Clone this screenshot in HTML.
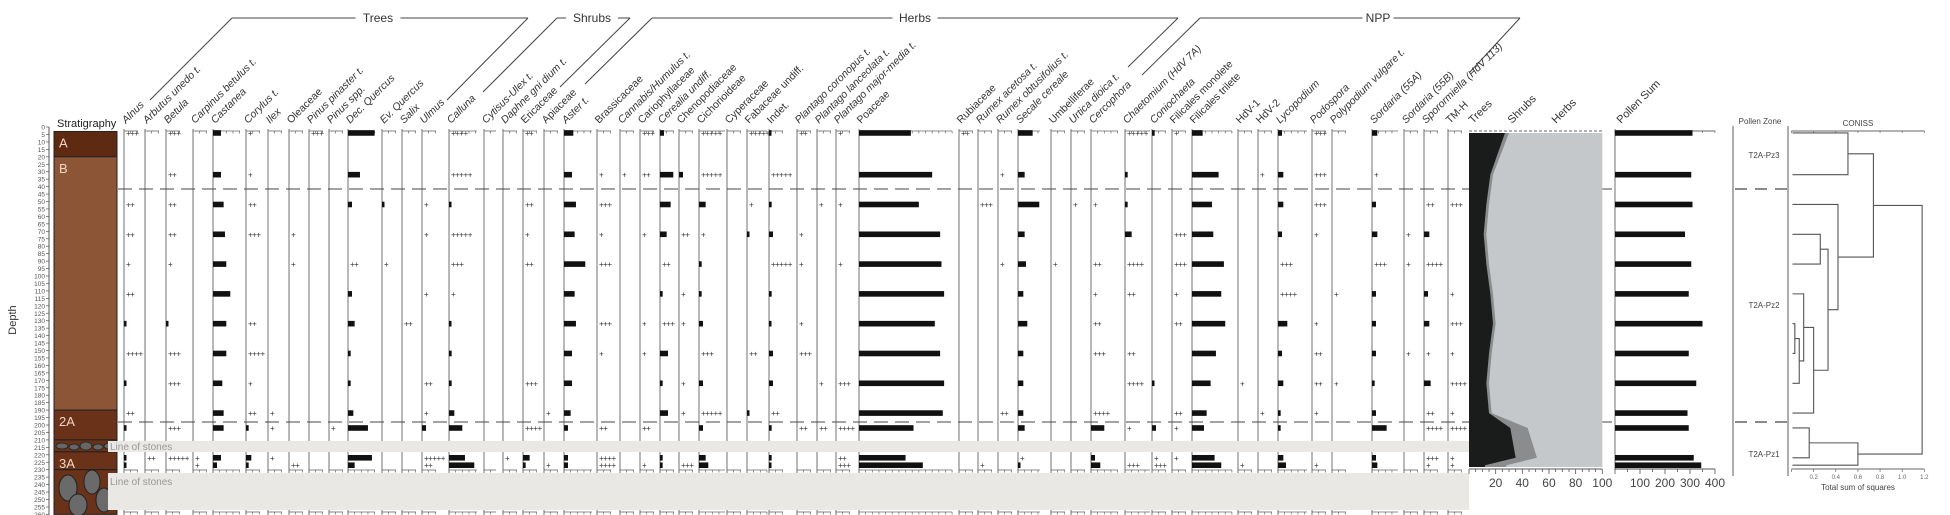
<!DOCTYPE html>
<html><head><meta charset="utf-8"><style>
html,body{margin:0;padding:0;background:#fff;}
svg{display:block;font-family:"Liberation Sans",sans-serif;}
</style></head><body>
<svg id="chart" width="1950" height="515" viewBox="0 0 1950 515" xmlns="http://www.w3.org/2000/svg"></svg>
<script>
// ---------- data ----------
const sampleDepths = [4,32,52,72,92,112,132,152,172,192,202,222,227];
const taxaNames = ["Alnus","Arbutus unedo t.","Betula","Carpinus betulus t.","Castanea","Corylus t.","Ilex","Oleaceae","Pinus pinaster t.","Pinus spp.","Dec. Quercus","Ev. Quercus","Salix","Ulmus","Calluna","Cytisus-Ulex t.","Daphne  gni dium t.","Ericaceae","Apiaceae","Aster t.","Brassicaceae","Cannabis/Humulus t.","Cariophyllaceae","Cerealia undiff.","Chenopodiaceae","Cichorioideae","Cyperaceae","Fabaceae undiff.","Indet.","Plantago coronopus t.","Plantago  lanceolata t.","Plantago major-media t.","Poaceae","Rubiaceae","Rumex acetosa t.","Rumex obtusifolius t.","Secale cereale","Umbelliferae","Urtica dioica t.","Cercophora","Chaetomium (HdV 7A)","Coniochaeta","Filicales monolete","Filicales trilete","HdV-1","HdV-2","Lycopodium","Podospora","Polypodium vulgare t.","Sordaria (55A)","Sordaria (55B)","Sporormiella (HdV 113)","TM-H"];
const N=null;
// number = percentage bar, string = rare-type marks
const taxonValues = [
 ["+++",N,"++","++","+","++",1,"++++",1,"++",1,1,1],
 [N,N,N,N,N,N,N,N,N,N,N,"++",N],
 ["+++","++","++","++","+",N,1,"+++","+++",N,"+++","+++++",N],
 [N,N,N,N,N,N,N,N,N,N,N,"+","+"],
 [6,6,8,9,10,13,10,10,7,8,8,6,3],
 ["+","+","++","+++",N,N,"++","++++","+","++",2,4,2],
 [N,N,N,N,N,N,N,N,N,"+","+","+",N],
 [N,N,N,"+","+",N,N,N,N,N,N,N,"++"],
 ["+++",N,N,N,N,N,N,N,N,N,N,N,N],
 [N,N,N,N,N,N,N,N,N,N,"+",N,N],
 [20,9,3,N,"++",3,5,2,2,4,15,18,5],
 [N,N,1,N,"+",N,N,N,N,N,N,N,N],
 [N,N,N,N,N,N,"++",N,N,N,N,N,N],
 [N,N,"+","+",N,"+",N,N,"++","+",3,"+++++","++"],
 ["++++","+++++",1,"+++++","+++","+",1,2,2,4,10,12,19],
 [N,N,N,N,N,N,N,N,N,N,N,N,N],
 [N,N,N,N,N,N,N,N,N,N,N,"+",N],
 ["++",N,"++","+","++",N,N,N,"+++",N,"++++",5,2],
 [N,N,N,N,N,N,N,N,N,"+",N,N,"+"],
 [7,6,9,8,16,8,9,6,6,5,3,3,3],
 [N,"+","+++","+","+++",N,"+++","+",N,N,"++","++++","++++"],
 [N,"+",N,N,N,N,N,N,N,N,N,N,N],
 ["+++","++",N,"+",N,N,"+","+",N,N,"++",N,"+"],
 [3,10,8,5,"++",2,"+++",6,2,6,N,2,2],
 [N,3,N,"++",N,"+","+",N,"+","+",N,N,"+++"],
 ["+++++","+++++",5,"+",2,2,3,"+++",3,"+++++",3,5,7],
 [N,N,N,N,N,N,N,N,N,N,N,N,N],
 ["+++++",N,"+",1,N,N,N,"++",N,1,N,N,N],
 [1,"+++++",2,3,"+++++",2,1,3,3,"++",2,2,1],
 ["++",N,N,"+","+",N,"+","+++",N,N,"++",N,N],
 [N,N,"+",N,N,N,N,N,"+",N,"++",N,N],
 ["+",N,"+",N,"+",N,N,N,"+++",N,"++++","++","+++"],
 [39,55,45,61,62,64,57,61,64,63,41,35,48],
 ["++",N,N,N,N,N,N,N,N,N,N,N,N],
 [N,N,"+++",N,N,N,N,N,N,N,N,N,"+"],
 [N,"+",N,N,"+",N,N,N,N,"++",N,N,N],
 [11,5,16,5,6,4,7,4,4,4,5,"+",1],
 [N,N,N,N,"+",N,N,N,N,N,N,N,N],
 [N,N,"+",N,N,N,N,N,N,N,N,N,N],
 [N,N,"+",N,"++","+","++","+++",N,"++++",10,3,7],
 ["+++++",2,2,5,"++++","++",N,"++","++++",N,"+",N,"+++"],
 [2,N,N,N,N,N,N,N,1,N,3,"+","+++"],
 ["+",N,N,"+++","+++","+","++",N,N,"++","+","+",N],
 [8,20,15,16,24,22,25,18,14,11,9,17,22],
 [N,N,N,N,N,N,N,N,"+",N,N,N,"+"],
 [N,"+",N,N,N,N,N,N,N,"+",N,N,N],
 [3,4,4,3,"+++","++++",7,3,4,2,2,4,6],
 ["+++","+++","+++","+",N,N,"+","++","++","+",N,N,"+"],
 [N,N,N,N,N,"+",N,N,"+",N,N,N,N],
 [4,"+",3,4,"+++",3,3,3,2,3,11,3,4],
 [N,N,N,"+","+",N,N,"+",N,N,N,N,N],
 [N,N,"++",4,"++++",3,4,"+",5,"++","++++","+++","+"],
 [N,N,"+++",N,N,"+","+++","+","++++","+","++++","+","+"]
];
const treesPct = [27,16,13,11,13,16,18,15,13,15,31,35,12];
const shrubsPct = [3,2,2,2,2,2,2,2,2,2,13,16,16];
const pollenSum = [310,305,310,280,305,295,350,295,325,290,295,315,345];
const summaryTicks = [20,40,60,80,100];
const sumTicks = [100,200,300,400];
const conissTicks = [0.2,0.4,0.6,0.8,1.0,1.2];
// dendrogram merges: child = sample index (number) or earlier merge "nK"
const mergeLeft  = [0,3,6,"n2",5,"n4","n1",2,"n0",10,"n9","n8"];
const mergeRight = [1,4,7,8,"n3",9,"n5","n6","n7",11,12,"n10"];
const mergeHeight= [0.51,0.26,0.03,0.07,0.11,0.20,0.33,0.42,0.74,0.16,0.60,1.18];
</script>
<script>
const NS="http://www.w3.org/2000/svg";
const svg=document.getElementById('chart');
function mk(tag,attrs,parent){const e=document.createElementNS(NS,tag);for(const k in attrs)e.setAttribute(k,attrs[k]);(parent||svg).appendChild(e);return e;}
const y0=127, pxPerDepth=1.49;
const yOf=d=>y0+d*pxPerDepth;
const pxPct=1.33;
const colX=[124,145,166,193,213,246,268,289,309,329,348,382,402,422,449,484,503,523,544,564,597,620,640,660,679,699,727,747,769,797,817,836,859,959,978,998,1018,1051,1071,1091,1125,1152,1172,1192,1238,1258,1278,1312,1332,1372,1404,1424,1448];
const colW=[14,14,14,14,27,14,14,14,14,14,27,14,14,14,28,12,14,14,14,28,14,14,14,14,14,26,14,20,14,14,14,14,93,14,14,14,22,14,14,27,25,14,14,40,14,14,29,14,14,26,14,14,14];
const italicSet=new Set(["Alnus","Arbutus unedo t.","Betula","Carpinus betulus t.","Castanea","Corylus t.","Ilex","Pinus pinaster t.","Pinus spp.","Dec. Quercus","Ev. Quercus","Salix","Ulmus","Calluna","Cytisus-Ulex t.","Daphne  gni dium t.","Aster t.","Cannabis/Humulus t.","Cerealia undiff.","Plantago coronopus t.","Plantago  lanceolata t.","Plantago major-media t.","Rumex acetosa t.","Rumex obtusifolius t.","Secale cereale","Urtica dioica t.","Cercophora","Chaetomium (HdV 7A)","Coniochaeta","Lycopodium","Podospora","Polypodium vulgare t.","Sordaria (55A)","Sordaria (55B)","Sporormiella (HdV 113)"]);

// ---- group headers ----
const groups=[["Trees",232,528,150,100,447,100,378],["Shrubs",557,630,483,92,560,87,592],["Herbs",652,1178,585,84,1128,67,915],["NPP",1200,1520,1142,75,1470,72,1378]];
groups.forEach(g=>{
  const gg=mk('g',{});
  
  
  const tw=g[0].length*7+10;
  mk('line',{x1:g[1],y1:18,x2:g[7]-tw/2,y2:18,stroke:'#444','stroke-width':1},gg);
  mk('line',{x1:g[7]+tw/2,y1:18,x2:g[2],y2:18,stroke:'#444','stroke-width':1},gg);
  mk('line',{x1:g[1],y1:18,x2:g[3],y2:g[4],stroke:'#444','stroke-width':1},gg);
  mk('line',{x1:g[2],y1:18,x2:g[5],y2:g[6],stroke:'#444','stroke-width':1},gg);
  const t=mk('text',{x:g[7],y:22,'font-size':12,'text-anchor':'middle',fill:'#333'},gg);t.textContent=g[0];
});

// ---- stratigraphy ----
const st=mk('text',{x:57,y:127,'font-size':11,fill:'#222'});st.textContent='Stratigraphy';

const strat=[["A",3,20,'#5e2a12'],["B",20,190,'#8c5636'],["2A",190,210,'#6a3218'],["stones",210,218,'#6a3218'],["3A",218,230,'#6a3218'],["stones",230,260,'#6a3218']];
strat.forEach(s=>{
  const r=mk('rect',{x:54,y:yOf(s[1]),width:63,height:yOf(s[2])-yOf(s[1]),fill:s[3],stroke:'#222','stroke-width':1});
  
  if(s[0]!=="stones"){const t=mk('text',{x:59,y:yOf(s[1])+16,'font-size':13,fill:'#f2d5c2'});t.textContent=s[0];}
});
[[62,446,6,3],[74,447,5,3],[86,446,6,4],[98,447,5,3],[109,446,5,3]].forEach(e=>mk('ellipse',{cx:e[0],cy:e[1],rx:e[2],ry:e[3],fill:'#666',stroke:'#222','stroke-width':0.8}));
[[68,488,9,13],[92,482,8,12],[78,505,9,11],[104,500,8,12]].forEach(e=>mk('ellipse',{cx:e[0],cy:e[1],rx:e[2],ry:e[3],fill:'#6a6a6a',stroke:'#222','stroke-width':1}));

// depth axis
const da=mk('g',{});
mk('line',{x1:49,y1:yOf(0),x2:49,y2:515,stroke:'#555','stroke-width':1},da);
for(let d=0;d<=260;d+=5){mk('line',{x1:46,y1:yOf(d),x2:49,y2:yOf(d),stroke:'#555','stroke-width':0.7},da);
 const t=mk('text',{x:45,y:yOf(d)+2.5,'font-size':6.5,'text-anchor':'end',fill:'#555'},da);t.textContent=d;}
const dt=mk('text',{x:16,y:320,'font-size':11,'text-anchor':'middle',fill:'#333',transform:'rotate(-90 16 320)'});dt.textContent='Depth';


// ---- taxa columns ----
taxaNames.forEach((nm,i)=>{
  const x=colX[i],w=colW[i];
  const g=mk('g',{});
  
  
  mk('line',{x1:x,y1:129,x2:x,y2:515,stroke:'#888','stroke-width':1.2},g);
  [131,470,512].forEach(yy=>{
    mk('line',{x1:x,y1:yy,x2:x+w,y2:yy,stroke:'#666','stroke-width':0.8},g);
    for(let t=x+6.65;t<=x+w+0.5;t+=6.65)mk('line',{x1:t,y1:yy,x2:t,y2:yy+2.5,stroke:'#666','stroke-width':0.7},g);
  });
  const lab=mk('text',{x:x+2,y:124,'font-size':10.5,fill:'#333',transform:`rotate(-45 ${x+2} 124)`},g);
  lab.textContent=nm; if(italicSet.has(nm))lab.setAttribute('font-style','italic');
  taxonValues[i].forEach((v,j)=>{
    if(v===null)return;
    const yy=yOf(sampleDepths[j]);
    if(typeof v==='number'){const b=mk('rect',{x:x,y:yy-2.8,width:Math.max(2.5,v*pxPct),height:5.6,fill:'#111'},g);
      }
    else{const t=mk('text',{x:x+2,y:yy+3,'font-size':8,fill:'#333','letter-spacing':'-0.5'},g);t.textContent=v;}
  });
});

// stones bands (over columns)
const b1=mk('rect',{x:108,y:441,width:1361,height:11,fill:'#eae8e4'});

const b1t=mk('text',{x:110,y:450,'font-size':10,fill:'#999'});b1t.textContent='Line of stones';
const b2=mk('rect',{x:108,y:473,width:1361,height:37,fill:'#eae8e4'});

const b2t=mk('text',{x:110,y:485,'font-size':10,fill:'#999'});b2t.textContent='Line of stones';

// zone dashed lines
[189,422].forEach((yy,k)=>{const l=mk('line',{x1:118,y1:yy,x2:1470,y2:yy,stroke:'#444','stroke-width':1,'stroke-dasharray':'14,7'});
 
 mk('line',{x1:1735,y1:yy,x2:1792,y2:yy,stroke:'#444','stroke-width':1.2,'stroke-dasharray':'12,8'});
 mk('line',{x1:1602,y1:yy,x2:1612,y2:yy,stroke:'#444','stroke-width':1});});

// ---- summary area chart ----
const sx0=1469, sxW=133.3;
const sX=p=>sx0+p*sxW/100;
const sg=mk('g',{});
const yTop=133, yBot=467;
const ys=sampleDepths.map(yOf);
mk('rect',{x:sx0,y:yTop,width:sxW,height:yBot-yTop,fill:'#c5c8ca'},sg);
function area(vals,fill,name){
  let p=`M${sx0},${yTop} L${sX(vals[0])},${yTop} `;
  vals.forEach((v,j)=>p+=`L${sX(v)},${ys[j]} `);
  p+=`L${sX(vals[vals.length-1])},${yBot} L${sx0},${yBot} Z`;
  const a=mk('path',{d:p,fill:fill},sg);
}
area(treesPct.map((t,j)=>t+shrubsPct[j]),'#8a8c8e','shrubs-area');
area(treesPct,'#1a1c1b','trees-area');
mk('line',{x1:sx0,y1:131,x2:sx0+sxW,y2:131,stroke:'#666','stroke-width':1,'stroke-dasharray':'3,2'},sg);
mk('line',{x1:sx0,y1:469,x2:sx0+sxW,y2:469,stroke:'#555','stroke-width':1},sg);
for(let p=0;p<=100;p+=5)mk('line',{x1:sX(p),y1:469,x2:sX(p),y2:p%20==0?474:472,stroke:'#555','stroke-width':0.8},sg);
summaryTicks.forEach(p=>{const t=mk('text',{x:sX(p),y:487,'font-size':12,'text-anchor':'middle',fill:'#444'},sg);t.textContent=p;});
[["Trees",1473],["Shrubs",1512],["Herbs",1556]].forEach(h=>{const t=mk('text',{x:h[1],y:124,'font-size':11,fill:'#333',transform:`rotate(-45 ${h[1]} 124)`},sg);t.textContent=h[0];});

// ---- pollen sum ----
const px0=1615, pxW=100;
const pX=v=>px0+v*pxW/400;
const pg=mk('g',{});
mk('line',{x1:px0,y1:129,x2:px0,y2:470,stroke:'#888','stroke-width':1.2},pg);
mk('line',{x1:px0,y1:131,x2:pX(400),y2:131,stroke:'#666','stroke-width':1},pg);
mk('line',{x1:px0,y1:469,x2:pX(400),y2:469,stroke:'#555','stroke-width':1},pg);
for(let v=0;v<=400;v+=50){mk('line',{x1:pX(v),y1:469,x2:pX(v),y2:v%100==0?474:472,stroke:'#555','stroke-width':0.8},pg);
 mk('line',{x1:pX(v),y1:131,x2:pX(v),y2:133,stroke:'#666','stroke-width':0.7},pg);}
sumTicks.forEach(v=>{const t=mk('text',{x:pX(v),y:487,'font-size':12,'text-anchor':'middle',fill:'#444'},pg);t.textContent=v;});
pollenSum.forEach((v,j)=>{const b=mk('rect',{x:px0,y:ys[j]-2.8,width:v*pxW/400,height:5.6,fill:'#111'},pg);
 });
const pst=mk('text',{x:1621,y:124,'font-size':11,fill:'#333',transform:'rotate(-45 1621 124)'},pg);pst.textContent='Pollen Sum';

// ---- pollen zones ----
const zg=mk('g',{});
mk('line',{x1:1733,y1:126,x2:1733,y2:476,stroke:'#777','stroke-width':1.2},zg);
mk('line',{x1:1788,y1:126,x2:1788,y2:476,stroke:'#777','stroke-width':1.2},zg);
let t=mk('text',{x:1760,y:124,'font-size':8,'text-anchor':'middle',fill:'#444'},zg);t.textContent='Pollen Zone';
[["T2A-Pz3",158],["T2A-Pz2",308],["T2A-Pz1",457]].forEach(z=>{const tt=mk('text',{x:1764,y:z[1],'font-size':8,'text-anchor':'middle',fill:'#444'},zg);tt.textContent=z[0];});

// ---- CONISS ----
const cx0=1791.5, cxW=110.7;
const cX=v=>cx0+v*cxW;
const cg=mk('g',{});
t=mk('text',{x:1858,y:126,'font-size':8,'text-anchor':'middle',fill:'#444'},cg);t.textContent='CONISS';
mk('line',{x1:cx0,y1:131,x2:cX(1.2),y2:131,stroke:'#666','stroke-width':1},cg);
mk('line',{x1:cx0,y1:469,x2:cX(1.2),y2:469,stroke:'#666','stroke-width':1},cg);
for(let v=0;v<=1.21;v+=0.2){mk('line',{x1:cX(v),y1:131,x2:cX(v),y2:133,stroke:'#666','stroke-width':0.7},cg);mk('line',{x1:cX(v),y1:469,x2:cX(v),y2:472,stroke:'#666','stroke-width':0.7},cg);}
conissTicks.forEach(v=>{const tt=mk('text',{x:cX(v),y:479,'font-size':6,'text-anchor':'middle',fill:'#666'},cg);tt.textContent=v.toFixed(1);});
t=mk('text',{x:1858,y:490,'font-size':8,'text-anchor':'middle',fill:'#444'},cg);t.textContent='Total sum of squares';
const nodes=[];
function pos(c){if(typeof c==='number')return{x:cx0+1,y:ys[c]};return nodes[+c.slice(1)];}
mergeLeft.forEach((l,k)=>{
  const a=pos(l),b=pos(mergeRight[k]),hx=cX(mergeHeight[k]);
  const p=mk('path',{d:`M${a.x},${a.y} H${hx} V${b.y} H${b.x}`,fill:'none',stroke:'#555','stroke-width':1.1},cg);
  
  nodes[k]={x:hx,y:(a.y+b.y)/2};
});
</script>
</body></html>
